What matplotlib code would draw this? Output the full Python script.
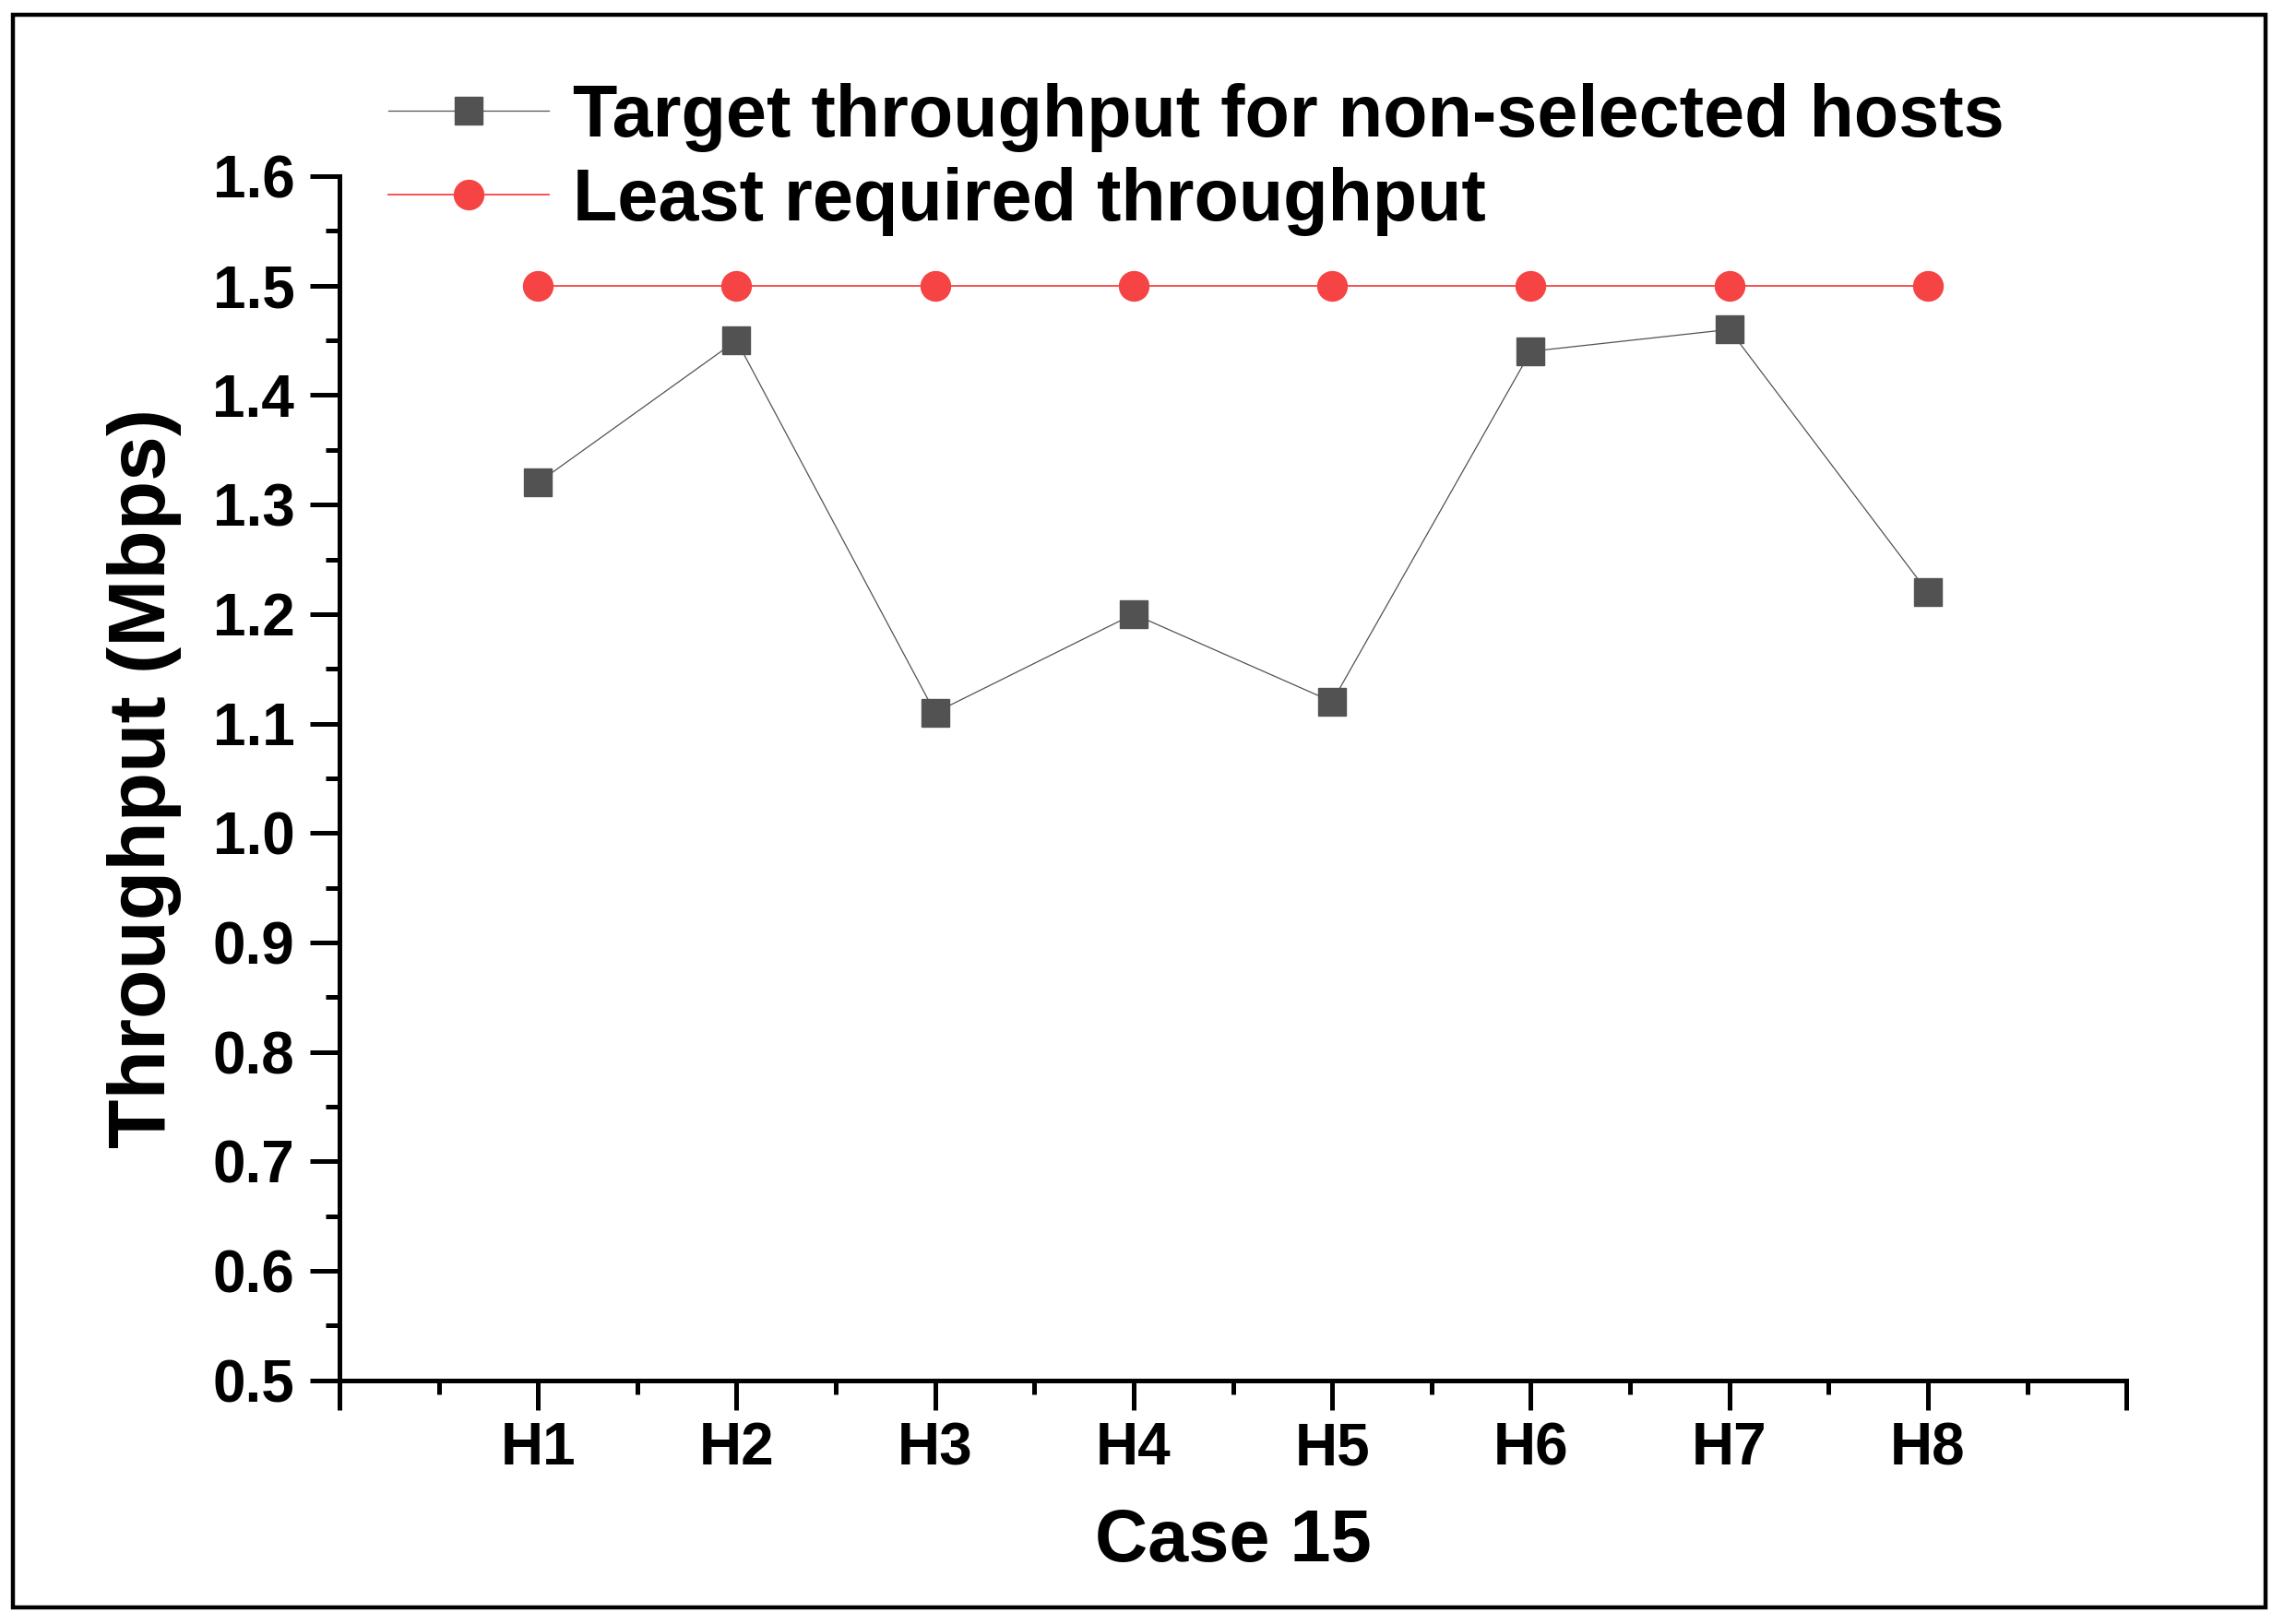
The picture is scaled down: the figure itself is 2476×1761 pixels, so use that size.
import matplotlib
matplotlib.use("Agg")
import matplotlib.pyplot as plt
from matplotlib.patches import Rectangle
from matplotlib.ticker import MultipleLocator, FixedLocator

plt.rcParams['font.family'] = ['Liberation Sans', 'DejaVu Sans']
plt.rcParams['font.weight'] = 'bold'

hosts = ["H1", "H2", "H3", "H4", "H5", "H6", "H7", "H8"]
target_throughput = [1.32, 1.45, 1.11, 1.20, 1.12, 1.44, 1.46, 1.22]
least_required = [1.5, 1.5, 1.5, 1.5, 1.5, 1.5, 1.5, 1.5]
y_ticks = [0.5, 0.6, 0.7, 0.8, 0.9, 1.0, 1.1, 1.2, 1.3, 1.4, 1.5, 1.6]

fig = plt.figure(figsize=(24.76, 17.61), dpi=100)
ax = fig.add_axes([0.1486, 0.150, 0.931 - 0.1486, 0.8915 - 0.150])

x = list(range(1, len(hosts) + 1))
l1, = ax.plot(x, target_throughput, color='#525252', lw=0.9, marker='s',
              markersize=22, markerfacecolor='#525252', markeredgecolor='#525252',
              label='Target throughput for non-selected hosts')
l2, = ax.plot(x, least_required, color='#F64343', lw=1.3, marker='o',
              markersize=23, markerfacecolor='#F64343', markeredgecolor='#F64343',
              label='Least required throughput')

ax.set_xlim(0, len(hosts) + 1)
ax.set_ylim(0.5, 1.6)
ax.xaxis.set_major_locator(FixedLocator(list(range(0, len(hosts) + 2))))
ax.set_xticklabels([''] + hosts + [''])
ax.xaxis.set_minor_locator(MultipleLocator(0.5))
ax.set_yticks(y_ticks)
ax.set_yticklabels([f"{v:.1f}" for v in y_ticks])
ax.yaxis.set_minor_locator(MultipleLocator(0.05))

for s in ['top', 'right']:
    ax.spines[s].set_visible(False)
for s in ['left', 'bottom']:
    ax.spines[s].set_linewidth(3.6)

ax.tick_params(which='major', direction='out', length=23, width=3.6,
               labelsize=46, pad=12)
ax.tick_params(axis='x', which='major', pad=9)
ax.tick_params(which='minor', direction='out', length=11, width=3.6)
for lbl in ax.get_xticklabels() + ax.get_yticklabels():
    lbl.set_fontweight('bold')

ax.set_xlabel('Case 15', fontsize=57, fontweight='bold', labelpad=24)
ax.set_ylabel('Throughput (Mbps)', fontsize=63, fontweight='bold', labelpad=24)

leg = fig.legend(handles=[l1, l2], loc='upper left',
                 bbox_to_anchor=(0.154, 0.9715), frameon=False,
                 fontsize=57, handlelength=2.2, handletextpad=0.33,
                 labelspacing=0.2, borderpad=0)
for t in leg.get_texts():
    t.set_fontweight('bold')

fig.patches.append(Rectangle((0.0057, 0.010), 0.992 - 0.0057, 0.991 - 0.010,
                             transform=fig.transFigure, fill=False,
                             edgecolor='black', linewidth=3.2))

fig.savefig('out.png', dpi=100)
